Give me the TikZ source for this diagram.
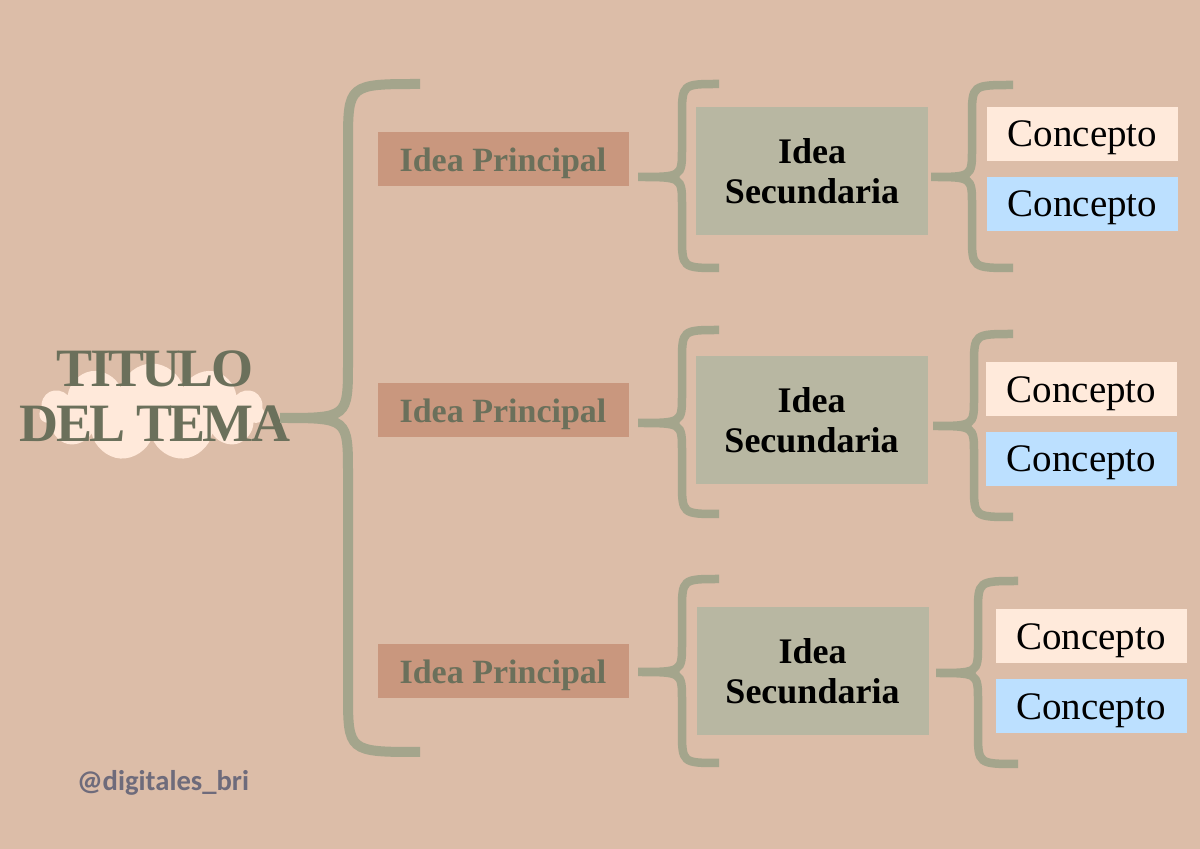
\documentclass[tikz,border=0pt]{standalone}
\usepackage{fontspec}
\setmainfont{Liberation Serif}
\newfontfamily\titlefont[LetterSpace=-5]{Liberation Serif}
\newfontfamily\marcafont{Carlito}
\usepackage{tikz}
\usetikzlibrary{shapes.symbols}

\definecolor{fondo}{HTML}{DCBDA8}
\definecolor{llave}{HTML}{A4A58C}
\definecolor{verdeoscuro}{HTML}{6B705B}
\definecolor{nube}{HTML}{FFE9DA}
\definecolor{principal}{HTML}{C9977E}
\definecolor{secundaria}{HTML}{B8B7A2}
\definecolor{crema}{HTML}{FFEADB}
\definecolor{celeste}{HTML}{BCE0FF}
\definecolor{marca}{HTML}{6E6B7B}

\tikzset{
    brace/.style={draw=llave, line width=4.25pt, line cap=butt},
    principalbox/.style={fill=principal, text=verdeoscuro, inner sep=0pt, minimum width=125.5pt,
        minimum height=27pt, text depth=0pt, font=\bfseries\fontsize{17}{20}\selectfont},
    secundariabox/.style={fill=secundaria, inner sep=0pt, minimum width=116pt, minimum height=64pt,
        align=center, font=\bfseries\fontsize{18}{20}\selectfont},
    conceptobox/.style={inner sep=0pt, minimum width=95.5pt, minimum height=27pt, text depth=0pt,
        font=\fontsize{19.5}{20}\selectfont}
}

\begin{document}
\begin{tikzpicture}[x=0.5pt, y=-0.5pt]
            \fill [fondo] (0,0) rectangle (1200,849);
            \useasboundingbox (0,0) rectangle (1200,849);

            % titulo
            \node (nube) [cloud, cloud puffs=11, fill=nube, inner sep=0pt, minimum width=112.5pt, minimum height=48.5pt] at (152,412) {};
            \node (titulo) [align=center, text=verdeoscuro, font=\titlefont\bfseries\fontsize{27}{27.5}\selectfont] at (155,396) {TITULO\\DEL TEMA};

            % llave grande
            \draw [brace, line width=5pt] (420,84) .. controls (348,84) .. (348,145) -- (348,362)
                .. controls (348,418) .. (280,418) .. controls (348,418) .. (348,474)
                -- (348,692) .. controls (348,752) .. (420,752);

            % ideas principales
            \node (P1) [principalbox] at (503,159.5) {Idea Principal};
            \node (P2) [principalbox] at (503,410.5) {Idea Principal};
            \node (P3) [principalbox] at (503,671.5) {Idea Principal};

            % llaves de la izquierda
            \foreach \ty in {177,423,672} {
                \draw [brace] (719,\ty-93) .. controls (682,\ty-93) .. (682,\ty-60) -- (682,\ty-28)
                    .. controls (682,\ty) .. (638,\ty) .. controls (682,\ty) .. (682,\ty+28)
                    -- (682,\ty+58) .. controls (682,\ty+91) .. (719,\ty+91);
            }

            % ideas secundarias
            \node (S1) [secundariabox] at (812,171) {Idea\\Secundaria};
            \node (S2) [secundariabox] at (811.5,420.5) {Idea\\Secundaria};
            \node (S3) [secundariabox] at (812.5,671.5) {Idea\\Secundaria};

            % llaves de la derecha
            \foreach \tx/\ty/\sx/\ex in {931/177/972/1013, 933/426/974/1013, 936/673/978/1018} {
                \draw [brace] (\ex,\ty-92) .. controls (\sx,\ty-92) .. (\sx,\ty-60) -- (\sx,\ty-28)
                    .. controls (\sx,\ty) .. (\tx,\ty) .. controls (\sx,\ty) .. (\sx,\ty+28)
                    -- (\sx,\ty+59) .. controls (\sx,\ty+91) .. (\ex,\ty+91);
            }

            % conceptos
            \node (C1a) [conceptobox, fill=crema] at (1082.5,134) {Concepto};
            \node (C1b) [conceptobox, fill=celeste] at (1082.5,204) {Concepto};
            \node (C2a) [conceptobox, fill=crema] at (1081.5,389.5) {Concepto};
            \node (C2b) [conceptobox, fill=celeste] at (1081.5,459) {Concepto};
            \node (C3a) [conceptobox, fill=crema] at (1091,636.5) {Concepto};
            \node (C3b) [conceptobox, fill=celeste] at (1091,706.5) {Concepto};

            \node (firma) [anchor=base west, text=marca, font=\marcafont\bfseries\fontsize{14.3}{16}\selectfont] at (70,791) {@digitales\_bri};
        \end{tikzpicture}
\end{document}
